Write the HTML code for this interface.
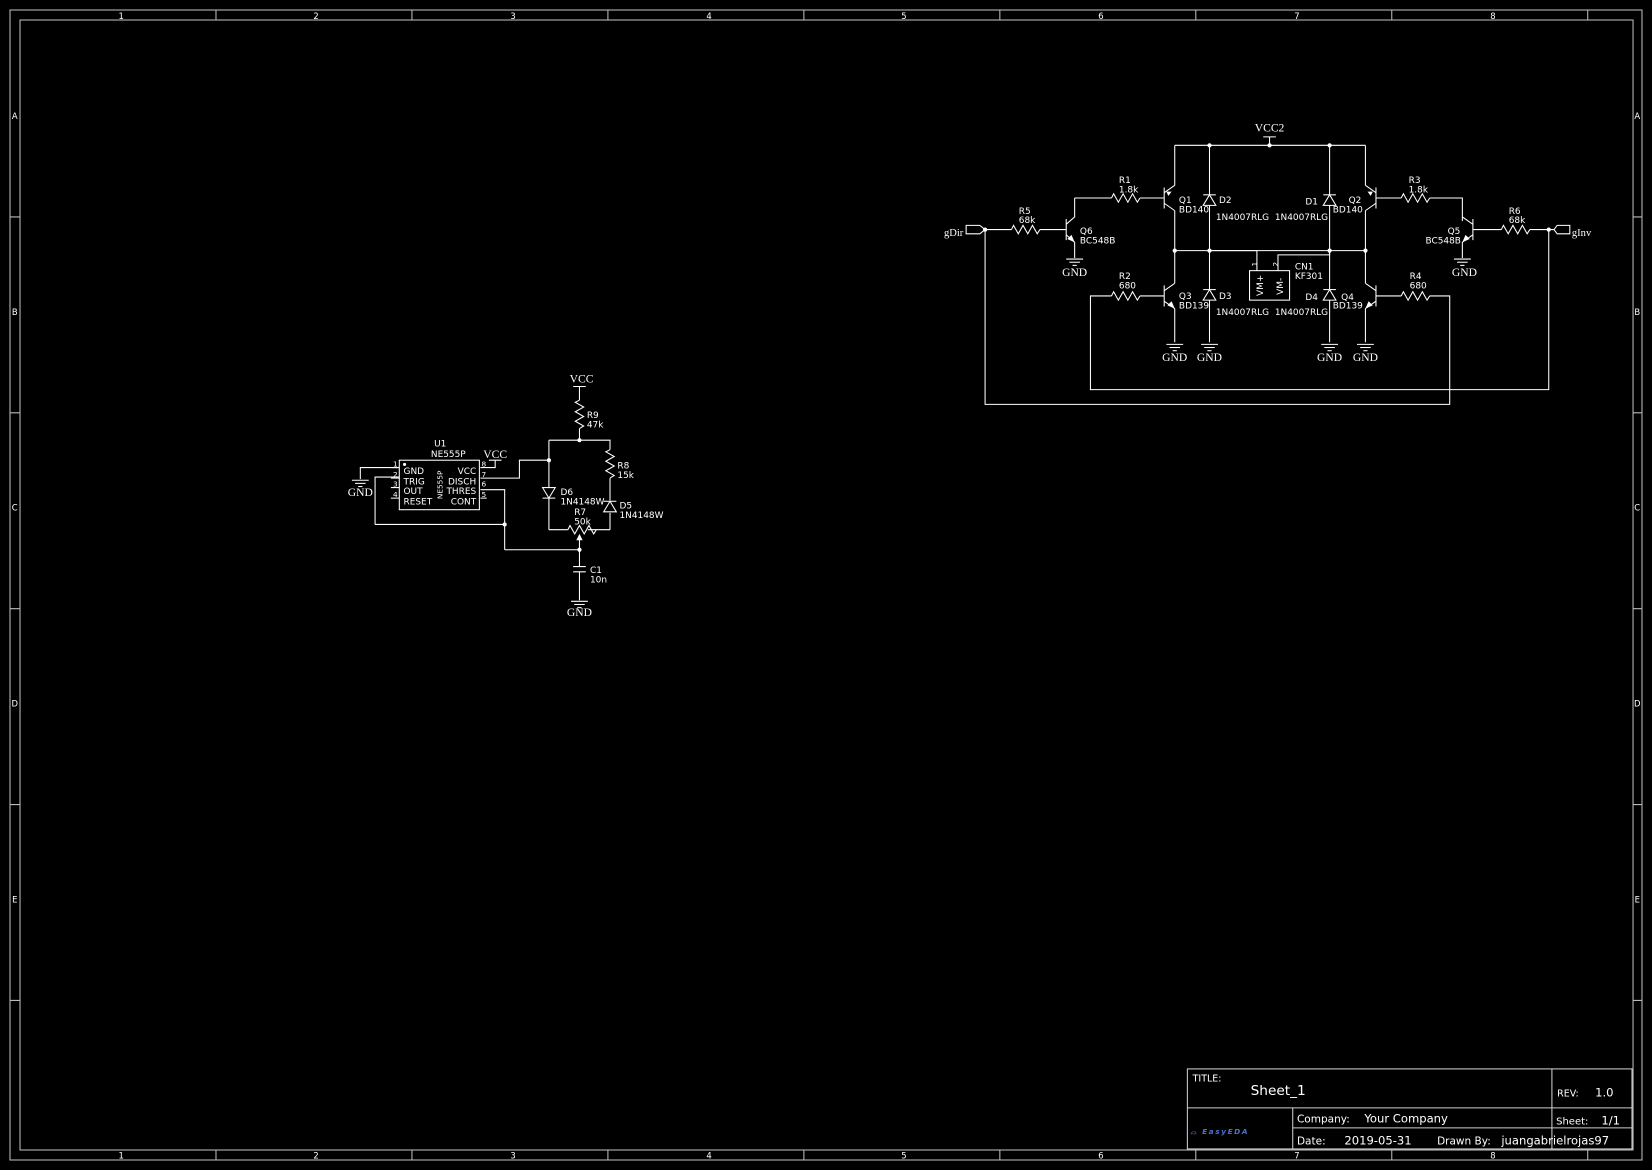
<!DOCTYPE html>
<html><head><meta charset="utf-8"><style>
html,body{margin:0;padding:0;background:#000;}
svg{display:block;}
text{font-family:"DejaVu Sans","Liberation Sans",sans-serif;fill:#fff;}
.s, .s text{font-family:"Liberation Serif",serif;font-size:11px;}
.l text{font-size:8.5px;}
</style></head><body>
<svg width="1652" height="1170" viewBox="0 0 1568 1111" preserveAspectRatio="none" xmlns="http://www.w3.org/2000/svg">
<rect width="1568" height="1111" fill="#000"/>
<defs>
<polyline id="rh" points="0,0 2,-4 6.5,4 11,-4 15.5,4 20,-4 24.5,4 27,0" fill="none" stroke="#fff" stroke-width="1"/>
<polyline id="rv" points="0,0 -4,2 4,6.5 -4,11 4,15.5 -4,20 4,24.5 0,27" fill="none" stroke="#fff" stroke-width="1"/>
<g id="gnd" stroke="#fff" stroke-width="1"><line x1="-8" y1="0" x2="8" y2="0"/><line x1="-5" y1="3" x2="5" y2="3"/><line x1="-2" y1="6" x2="2" y2="6"/></g>
<g id="dup" stroke="#fff" stroke-width="1" fill="none"><polygon points="-6,5 6,5 0,-5"/><line x1="-6" y1="-5" x2="6" y2="-5"/></g>
<g id="ddn" stroke="#fff" stroke-width="1" fill="none"><polygon points="-6,-5 6,-5 0,5"/><line x1="-6" y1="5" x2="6" y2="5"/></g>
</defs>
<g stroke="#bbb" fill="none" stroke-width="1">
<rect x="9.5" y="9.5" width="1549" height="1092"/>
<rect x="19" y="19" width="1531" height="1073"/>
<path d="M205 9.5V19M391 9.5V19M577 9.5V19M763 9.5V19M949 9.5V19M1135 9.5V19M1321 9.5V19M1507 9.5V19
M205 1092V1101M391 1092V1101M577 1092V1101M763 1092V1101M949 1092V1101M1135 1092V1101M1321 1092V1101M1507 1092V1101
M9.5 206H19M9.5 392H19M9.5 578H19M9.5 764H19M9.5 950H19M1550 206H1558M1550 392H1558M1550 578H1558M1550 764H1558M1550 950H1558"/>
</g>
<g font-size="8" text-anchor="middle" style="fill:#ccc">
<text x="115" y="18">1</text><text x="300" y="18">2</text><text x="487" y="18">3</text><text x="673" y="18">4</text><text x="858" y="18">5</text><text x="1045" y="18">6</text><text x="1231" y="18">7</text><text x="1417" y="18">8</text>
<text x="115" y="1100">1</text><text x="300" y="1100">2</text><text x="487" y="1100">3</text><text x="673" y="1100">4</text><text x="858" y="1100">5</text><text x="1045" y="1100">6</text><text x="1231" y="1100">7</text><text x="1417" y="1100">8</text>
<text x="14" y="113">A</text><text x="14" y="299">B</text><text x="14" y="485">C</text><text x="14" y="671">D</text><text x="14" y="857">E</text>
<text x="1554" y="113">A</text><text x="1554" y="299">B</text><text x="1554" y="485">C</text><text x="1554" y="671">D</text><text x="1554" y="857">E</text>
</g>
<g stroke="#ccc" fill="none" stroke-width="1">
<rect x="1127" y="1015" width="422" height="76"/>
<path d="M1127 1052H1549M1473 1015V1091M1227 1052V1091M1227 1071H1549"/>
</g>
<text x="1132" y="1027" font-size="9">TITLE:</text>
<text x="1187" y="1040" font-size="13">Sheet_1</text>
<text x="1478" y="1041" font-size="9">REV:</text>
<text x="1514" y="1041" font-size="11">1.0</text>
<text x="1231" y="1066" font-size="10">Company:</text>
<text x="1295" y="1066" font-size="11">Your Company</text>
<text x="1477" y="1068" font-size="9.5">Sheet:</text>
<text x="1520" y="1068" font-size="11">1/1</text>
<text x="1231" y="1087" font-size="10">Date:</text>
<text x="1276" y="1087" font-size="11">2019-05-31</text>
<text x="1364" y="1087" font-size="10">Drawn By:</text>
<text x="1425" y="1087" font-size="11">juangabrielrojas97</text>
<text x="1130" y="1077" font-size="7" font-style="italic" font-weight="bold" style="fill:#4a70d0" letter-spacing="1.5">⌓ EasyEDA</text>

<g stroke="#fff" stroke-width="1" fill="none">
<path d="M1205 130V138M1199 130H1211M1115 138H1296M1115 138V176M1296 138V176"/>
<path d="M1148 138V185M1148 195V238M1262 138V185M1262 195V238"/>
<path d="M1115 200V269M1296 200V269M1115 238H1296"/>
<path d="M1148 238V275M1148 285V325M1262 238V275M1262 285V325M1115 293V325M1296 293V325"/>
<path d="M1148 238H1193V248M1213 248V242H1262V238"/>
<rect x="1186" y="257" width="38" height="28"/>
<path d="M1193 248V257M1213 248V257"/>
<path d="M1105 178V198M1105 183L1115 176M1105 193L1115 200M1082 188H1105M1020 188H1055"/>
<path d="M1306 178V198M1306 183L1296 176M1306 193L1296 200M1306 188H1330M1357 188H1388V210"/>
<path d="M1105 271V291M1105 276L1115 269M1105 286L1115 293M1082 281H1105"/>
<path d="M1306 271V291M1306 276L1296 269M1306 286L1296 293M1306 281H1330M1357 281H1376V384H935V218"/>
<path d="M1055 281H1035V370H1470V218"/>
<path d="M1012 208V228M1012 213L1020 206V188M1012 223L1020 230V245M987 218H1012M935 218H960"/>
<path d="M1398 208V228M1398 213L1388 206M1398 223L1388 230V245M1398 218H1425M1452 218H1475"/>
<path d="M917 214H930L935 218L930 222H917Z M1490 214H1478L1475 218L1478 222H1490Z"/>
</g>
<g fill="#fff">
<polygon points="1107,182 1112,182 1109,186"/>
<polygon points="1303,182 1298,182 1301,186"/>
<polygon points="1115,293 1108,290 1112,286"/>
<polygon points="1296,293 1303,290 1299,286"/>
<polygon points="1020,230 1013,227 1017,223"/>
<polygon points="1388,230 1395,227 1391,223"/>
<circle cx="1148" cy="138" r="2"/><circle cx="1205" cy="138" r="2"/><circle cx="1262" cy="138" r="2"/>
<circle cx="1115" cy="238" r="2"/><circle cx="1148" cy="238" r="2"/><circle cx="1262" cy="238" r="2"/><circle cx="1296" cy="238" r="2"/>
<circle cx="935" cy="218" r="2"/><circle cx="1470" cy="218" r="2"/>
</g>
<use href="#rh" x="1055" y="188"/><use href="#rh" x="1330" y="188"/>
<use href="#rh" x="1055" y="281"/><use href="#rh" x="1330" y="281"/>
<use href="#rh" x="960" y="218"/><use href="#rh" x="1425" y="218"/>
<use href="#dup" x="1148" y="190"/><use href="#dup" x="1262" y="190"/>
<use href="#dup" x="1148" y="280"/><use href="#dup" x="1262" y="280"/>
<use href="#gnd" x="1115" y="327"/><use href="#gnd" x="1148" y="327"/><use href="#gnd" x="1262" y="327"/><use href="#gnd" x="1296" y="327"/>
<use href="#gnd" x="1020" y="246"/><use href="#gnd" x="1388" y="246"/>
<g class="s" text-anchor="middle">
<text x="1205" y="125">VCC2</text>
<text x="1115" y="343">GND</text><text x="1148" y="343">GND</text><text x="1262" y="343">GND</text><text x="1296" y="343">GND</text>
<text x="1020" y="262">GND</text><text x="1390" y="262">GND</text>
</g>
<text class="s" x="896" y="224" style="font-size:10px">gDir</text>
<text class="s" x="1492" y="224" style="font-size:10px">gInv</text>
<g class="l">
<text x="1062" y="174">R1</text><text x="1062" y="183">1.8k</text>
<text x="1337" y="174">R3</text><text x="1337" y="183">1.8k</text>
<text x="967" y="203">R5</text><text x="967" y="212">68k</text>
<text x="1432" y="203">R6</text><text x="1432" y="212">68k</text>
<text x="1062" y="265">R2</text><text x="1062" y="274">680</text>
<text x="1338" y="265">R4</text><text x="1338" y="274">680</text>
<text x="1119" y="193">Q1</text><text x="1119" y="202">BD140</text>
<text x="1280" y="193">Q2</text><text x="1265" y="202">BD140</text>
<text x="1119" y="284">Q3</text><text x="1119" y="293">BD139</text>
<text x="1273" y="285">Q4</text><text x="1265" y="293">BD139</text>
<text x="1025" y="222">Q6</text><text x="1025" y="231">BC548B</text>
<text x="1374" y="222">Q5</text><text x="1353" y="231">BC548B</text>
<text x="1157" y="193">D2</text><text x="1154" y="209">1N4007RLG</text>
<text x="1239" y="194">D1</text><text x="1210" y="209">1N4007RLG</text>
<text x="1157" y="284">D3</text><text x="1154" y="299">1N4007RLG</text>
<text x="1239" y="285">D4</text><text x="1210" y="299">1N4007RLG</text>
<text x="1229" y="256">CN1</text><text x="1229" y="265">KF301</text>
<text x="1193" y="253" style="font-size:7px" transform="rotate(-90 1193 253)">1</text>
<text x="1213" y="253" style="font-size:7px" transform="rotate(-90 1213 253)">2</text>
<text x="1199" y="281" transform="rotate(-90 1199 281)">VM+</text>
<text x="1218" y="280" transform="rotate(-90 1218 280)">VM-</text>
</g>

<g stroke="#fff" stroke-width="1" fill="none">
<path d="M544 367H556M550 367V380M550 407V418M521 418H579V427M579 454V475M579 487V503M521 418V463M521 473V503M521 503H539M558 503H579"/>
<path d="M550 510V522M479 522H550M550 522V538M544 538H556M544 543H556M550 543V570"/>
<path d="M479 522V465H456M356 498H479M356 498V453H379M379 444H342V455"/>
<path d="M456 454H493V437H521M456 444H470V437M464 437H476M456 473H462"/>
<path d="M371 444H379M371 454H379M371 463H379M371 473H379"/>
<rect x="379" y="437" width="76" height="47"/>
</g>
<use href="#rv" x="550" y="380"/><use href="#rv" x="579" y="427"/><use href="#rh" x="539" y="503"/>
<use href="#ddn" x="521" y="468"/><use href="#dup" x="579" y="481"/>
<use href="#gnd" x="550" y="571"/><use href="#gnd" x="342" y="456"/>
<g fill="#fff">
<polygon points="550,507 547,513 553,513"/>
<circle cx="550" cy="418" r="2"/><circle cx="521" cy="437" r="2"/><circle cx="479" cy="498" r="2"/><circle cx="550" cy="522" r="2"/>
<circle cx="384" cy="441" r="1.5"/>
</g>
<g class="s" text-anchor="middle">
<text x="552" y="363">VCC</text><text x="470" y="435">VCC</text>
<text x="550" y="585">GND</text><text x="342" y="471">GND</text>
</g>
<g class="l">
<text x="557" y="397">R9</text><text x="557" y="406">47k</text>
<text x="586" y="445">R8</text><text x="586" y="454">15k</text>
<text x="532" y="470">D6</text><text x="532" y="479">1N4148W</text>
<text x="545" y="489">R7</text><text x="545" y="498">50k</text>
<text x="588" y="483">D5</text><text x="588" y="492">1N4148W</text>
<text x="560" y="544">C1</text><text x="560" y="553">10n</text>
<text x="412" y="424">U1</text><text x="409" y="434">NE555P</text>
<text x="383" y="450">GND</text><text x="383" y="460">TRIG</text><text x="383" y="469">OUT</text><text x="383" y="479">RESET</text>
<g text-anchor="end"><text x="452" y="450">VCC</text><text x="452" y="460">DISCH</text><text x="452" y="469">THRES</text><text x="452" y="479">CONT</text></g>
<text x="420" y="474" style="font-size:7px" transform="rotate(-90 420 474)">NE555P</text>
<text x="373" y="443" style="font-size:7px">1</text><text x="373" y="453" style="font-size:7px">2</text><text x="373" y="462" style="font-size:7px">3</text><text x="373" y="472" style="font-size:7px">4</text>
<text x="457" y="443" style="font-size:7px">8</text><text x="457" y="453" style="font-size:7px">7</text><text x="457" y="462" style="font-size:7px">6</text><text x="457" y="472" style="font-size:7px">5</text>
</g>
</svg>
</body></html>
